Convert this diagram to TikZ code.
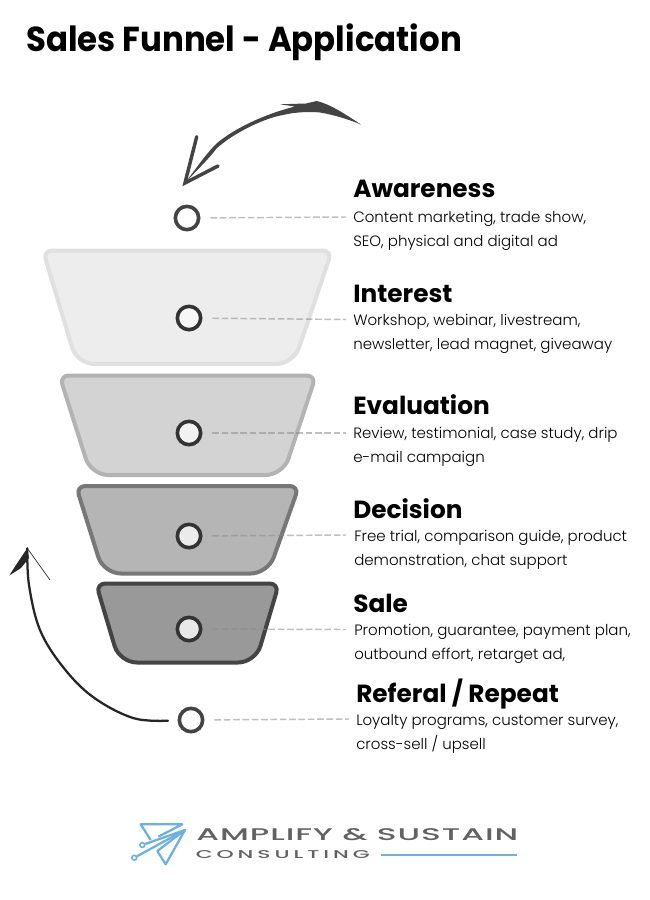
\documentclass[tikz,border=0pt]{standalone}
\usepackage{fontspec}
\setmainfont{Poppins Light}
\newfontfamily\headfont{Poppins}[UprightFont=* SemiBold,BoldFont=* Bold]
\newfontfamily\logofont{Poppins Medium}
\definecolor{logoblue}{HTML}{6FB1DE}
\definecolor{logogray}{HTML}{626262}
\definecolor{brush}{HTML}{444444}
\tikzset{
 x=0.75pt,y=-0.75pt,
 funnelpart/.style={line width=3pt,line join=round},
 dot/.style={circle,minimum size=17.5pt,inner sep=0pt,line width=2.7pt,draw=#1},
 leader/.style={draw=black!45,opacity=.55,line width=1.1pt,dash pattern=on 5pt off 2pt,shorten <=7.5pt},
 headtxt/.style={anchor=base west,inner sep=0pt,font=\headfont\bfseries\fontsize{18.6}{18.6}\selectfont},
 bodytxt/.style={anchor=base west,inner sep=0pt,font=\fontsize{11.25}{11.25}\selectfont},
 logoline/.style={draw=logoblue,line width=1.7pt,line join=round},
}
\newcommand{\trap}[8]{%
 \definecolor{trapfill}{HTML}{#1}\definecolor{trapdraw}{HTML}{#2}%
 \draw[funnelpart,fill=trapfill,draw=trapdraw]
  ({(#5+#6)/2},#3) [rounded corners=7pt] -- (#6,#3) [rounded corners=13pt] -- (#8,#4) -- (#7,#4) [rounded corners=7pt] -- (#5,#3) -- cycle;}
\begin{document}
\begin{tikzpicture}
\useasboundingbox (0,0) rectangle (650,900);
\fill[white] (0,0) rectangle (650,900);
\node[anchor=base west,inner sep=0pt,font=\headfont\bfseries\fontsize{26}{26}\selectfont] (title) at (26,51) {\scalebox{.935}[1]{Sales Funnel - Application}};
% funnel
\trap{EDEDED}{E0E0E0}{250.5}{364}{43}{332}{77}{293.5}
\trap{D3D3D3}{B3B3B3}{375.5}{475}{59.5}{316}{91}{283}
\trap{B5B5B5}{777777}{486}{573.5}{76}{299}{103.5}{268}
\trap{999999}{444444}{583.5}{662.5}{96}{279}{119.5}{255.5}
% dots
\node[dot=brush,fill=white] (c1) at (187,218) {};
\node[dot=black!80,fill=white!97!black] (c2) at (189,318) {};
\node[dot=black!80,fill=white!95!black] (c3) at (189,433) {};
\node[dot=black!80,fill=white!92!black] (c4) at (189,536) {};
\node[dot=black!80,fill=white!91!black] (c5) at (189,629) {};
\node[dot=brush,fill=white] (c6) at (191,720) {};
% labels
\node[headtxt] (h1) at (353,197) {Awareness};
\node[bodytxt] (b1a) at (353,222) {Content marketing, trade show,};
\node[bodytxt] (b1b) at (353,246) {SEO, physical and digital ad};
\node[headtxt] (h2) at (353,302) {Interest};
\node[bodytxt] (b2a) at (353,325) {Workshop, webinar, livestream,};
\node[bodytxt] (b2b) at (353,349) {newsletter, lead magnet, giveaway};
\node[headtxt] (h3) at (353,414) {Evaluation};
\node[bodytxt] (b3a) at (353,438) {Review, testimonial, case study, drip};
\node[bodytxt] (b3b) at (353,462) {e-mail campaign};
\node[headtxt] (h4) at (353,518) {Decision};
\node[bodytxt] (b4a) at (354,541) {Free trial, comparison guide, product};
\node[bodytxt] (b4b) at (354,565) {demonstration, chat support};
\node[headtxt] (h5) at (353,612) {Sale};
\node[bodytxt] (b5a) at (354,635) {Promotion, guarantee, payment plan,};
\node[bodytxt] (b5b) at (354,659) {outbound effort, retarget ad,};
\node[headtxt] (h6) at (356,702) {Referal / Repeat};
\node[bodytxt] (b6a) at (356,725) {Loyalty programs, customer survey,};
\node[bodytxt] (b6b) at (356,749) {cross-sell / upsell};
% leaders
\coordinate (e1) at (346,217);\coordinate (e2) at (346,319.5);\coordinate (e3) at (346,433);
\coordinate (e4) at (346,535);\coordinate (e5) at (346,629.5);\coordinate (e6) at (349,719);
\foreach \i in {1,...,6} \draw[leader] (c\i) -- (e\i);
% top arrow
\coordinate (t1) at (185,183);
\fill[brush] (361,124.5) .. controls (345,114) and (330,104) .. (316.7,101)
  -- (306,103.5) -- (280,104.3) -- (295,106.5)
  .. controls (265,114) and (235,128) .. (216.7,143.3)
  .. controls (205,155) and (195,170) .. (185,183)
  .. controls (195,172) and (208,160) .. (216.7,148.3)
  .. controls (235,132) and (265,118) .. (283,115)
  .. controls (295,112) and (310,111.5) .. (320,112.5)
  .. controls (335,115) and (350,120) .. (361,124.5) -- cycle;
\draw[brush,line width=2.6pt,line cap=round] (196.7,136.7) -- (t1) -- (218,166);
% bottom arrow
\coordinate (t2) at (27.3,548.3);
\draw[black!85,line width=1.7pt,line cap=round] plot[smooth,tension=.6] coordinates {(168,720.7) (133,718) (93,697) (63,667) (40,630) (29,585) (t2)};
\fill[black!85] (t2) -- (29,558) -- (21,568) -- (9.3,575.5) -- (16,565) -- (24,553) -- cycle;
\draw[black!85,line width=.5pt] (t2) -- (50,580);
% logo
\draw[logoline] (150.7,840) -- (140.7,824.3) -- (182.3,824.3) -- (158.3,836.7);
\draw[logoline] (185,830) -- (157.3,851) -- (165.7,864.3) -- cycle;
\node[circle,draw=logoblue,line width=1.2pt,inner sep=0pt,minimum size=3.6pt] (l1) at (142.3,845) {};
\node[circle,draw=logoblue,line width=1.2pt,inner sep=0pt,minimum size=3.6pt] (l2) at (134.3,857.7) {};
\coordinate (l3) at (185,830);
\draw[logoline] (l1) -- (l3);
\draw[logoline] (l2) -- (l3);
\node[anchor=base west,inner sep=0pt,text=logogray] (lg1) at (196,840) {\resizebox{241.5pt}{9pt}{\logofont\addfontfeature{LetterSpace=3}AMPLIFY \& SUSTAIN}};
\node[anchor=base west,inner sep=0pt,text=logogray] (lg2) at (195.5,858.5) {\resizebox{130.5pt}{6pt}{\logofont\addfontfeature{LetterSpace=18}CONSULTING}};
\coordinate (r1) at (381,855);\coordinate (r2) at (517,855);
\draw[logoblue,line width=1.1pt] (r1) -- (r2);
\end{tikzpicture}
\end{document}
